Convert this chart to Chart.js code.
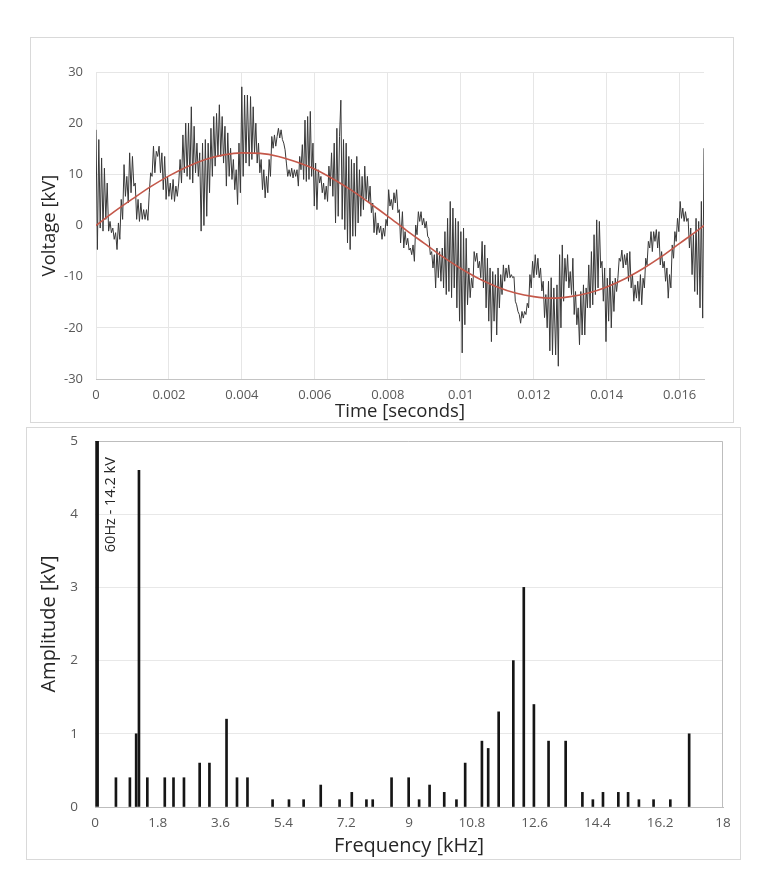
<!DOCTYPE html>
<html>
<head>
<meta charset="utf-8">
<script src="https://cdn.jsdelivr.net/npm/chart.js@4/dist/chart.umd.min.js"></script>
<style>
  html, body { margin: 0; padding: 0; background: #fff; }
  body { width: 768px; height: 887px; position: relative; overflow: hidden; }
  .panel { position: absolute; box-sizing: border-box; border: 1px solid #d9d9d9; background: #fff; }
  #p1 { left: 30px; top: 37px; width: 704px; height: 386px; }
  #p2 { left: 26px; top: 427px; width: 715px; height: 433px; }
  canvas { position: absolute; left: 0; top: 0; }
</style>
</head>
<body>
<div class="panel" id="p1"><canvas id="c1" width="704" height="386"></canvas></div>
<div class="panel" id="p2"><canvas id="c2" width="715" height="433"></canvas></div>
<script>
// ---------- Time-domain chart data (kV) ----------
const timeTicks = [0, 0.002, 0.004, 0.006, 0.008, 0.01, 0.012, 0.014, 0.016];
const voltTicks = [-30, -20, -10, 0, 10, 20, 30];
// time windows (s) covered by each read segment of the noisy trace
const segStart = [0, 0.0042, 0.0084, 0.0126];
const segEnd   = [0.00415, 0.00835, 0.01255, 0.0166667];
const voltSeg1 = [18.7, -4.7, 16.8, -0.5, 13.2, -1.1, 11.2, 1.2, 8.3, -1.1, 0.8, -1.4, -0.5, -2.7, -1.4, -4.7, 0.5, -2.7, 5.1, 1.2, 11.9, 5.7, 9.6, 4.4, 14.2, 6.4, 13.5, 7.7, 8.3, 1.2, 5.1, 0.8, 4.4, 1.2, 3.1, 1.2, 3.1, 1.0, 6.4, 10.3, 9.6, 15.5, 10.3, 14.5, 13.5, 15.5, 10.3, 14.2, 7.0, 13.5, 5.1, 9.6, 5.7, 8.3, 5.1, 9.0, 4.7, 7.7, 5.7, 8.3, 12.9, 8.3, 17.7, 10.3, 20, 9.6, 20, 9.0, 23.2, 8.3, 19.4, 10.3, 16.1, 9.6, 14.2, -1.1, 16.1, 0, 16.8, 1.8, 16.1, 6.4, 19.0, 9.6, 21.3, 11.6, 21.9, 13.5, 23.6, 13.5, 21.3, 12.2, 19.4, 7.7, 18.1, 9.6, 15.1, 9.0, 12.9, 7.0, 10.9, 4.1, 16.1, 6.4, 27.1, 9.6, 25.5, 12.2, 25.5];
const voltSeg2 = [11.6, 25.2, 12.9, 23.2, 14.2, 20, 12.2, 16.1, 10.3, 12.9, 7.0, 10.9, 5.4, 9.6, 6.4, 12.9, 9.6, 17.4, 15.1, 17.7, 15.5, 17.4, 19.0, 17.1, 18.7, 16.8, 16.1, 14.8, 12.2, 9.6, 10.9, 9.6, 11.2, 9.3, 10.9, 9.6, 10.9, 7.7, 13.5, 10.9, 15.8, 9.0, 20.6, 8.6, 21.3, 9.0, 22.3, 9.6, 16.1, 3.8, 12.2, 3.1, 10.9, 8.3, 9.6, 6.4, 8.3, 5.1, 7.7, 4.7, 11.6, 7.7, 14.2, 5.7, 16.1, 0.5, 19.0, 1.8, 17.4, 24.5, 1.2, 16.8, -0.8, 16.1, -3.4, 13.5, -4.7, 12.9, -2.1, 12.2, -2.1, 13.5, 0.5, 10.9, 1.8, 9.6, 3.1, 11.6, 5.1, 9.6, 4.4, 7.7, 2.5, 4.4, -1.4, 2.5, -1.8, 0.5, -1.4, -0.1, -2.7, -0.5, -2.1, 1.2, -0.1, 7.0, 3.8, 5.1, 3.1, 6.4, 4.4, 7.0, 2.5, 3.1, -3.4];
const voltSeg3 = [2.7, -4.4, -1.2, -3.8, -2.5, -4.8, -4.4, -5.7, -3.8, -7.0, 0.1, -1.8, 2.7, 0.8, 2.7, 0.1, 1.4, -0.5, 0.8, -2.1, -2.5, -5.7, -5.1, -8.3, -5.7, -12.2, -4.4, -10.2, -5.1, -10.9, -4.4, -12.2, -1.2, -13.5, 1.4, -12.9, 4.7, -14.1, 3.4, -12.2, 1.4, -16.1, 0.8, -18.7, -1.2, -24.9, -0.5, -19.4, -2.5, -15.5, -8.3, -14.1, -10.3, -12.2, -5.1, -7.0, -5.4, -8.3, -7.0, -10.2, -3.1, -12.2, -3.8, -16.1, -6.4, -18.7, -8.3, -22.7, -9.0, -18.7, -9.6, -21.4, -8.3, -16.1, -9.6, -13.5, -7.7, -10.9, -8.3, -10.2, -7.7, -10.2, -9.6, -10.2, -10, -14.8, -15.5, -16.8, -17.4, -19.1, -16.8, -18.1, -16.8, -17.4, -15.2, -16.1, -9.6, -12.2, -7.0, -10.2, -5.7, -9.6, -6.4, -10.2, -8.3, -12.8, -10.9, -18.0, -13.5, -20, -10.9, -24.5, -10.2, -25.3, -12.2];
const voltSeg4 = [-25.3, -11.6, -27.5, -5.7, -20, -3.8, -14.8, -6.4, -10.9, -5.7, -12.2, -9.0, -13.5, -6.4, -17.4, -12.9, -19.4, -16.1, -23.3, -12.9, -21.4, -11.6, -21.4, -12.2, -16.1, -7.7, -16.1, -5.1, -15.5, -1.8, -13.5, 1.1, -12.2, 0.8, -8.3, -7.0, -14.8, -8.3, -22.7, -10.3, -18.7, -8.3, -20, -10.9, -16.8, -10.3, -12.9, -10.3, -6.4, -7.0, -4.8, -8.3, -5.7, -7.7, -5.4, -10.9, -5.1, -12.2, -9.6, -14.8, -11.6, -14.2, -10.9, -14.8, -9.6, -15.5, -10.3, -12.2, -6.4, -7.7, -3.1, -4.4, -1.2, -5.1, -1.2, -3.1, -0.8, -4.4, -1.2, -7.7, -5.1, -8.3, -7.0, -10.9, -8.3, -14.2, -9.6, -12.2, -3.8, -6.4, -1.2, -3.1, 1.4, -1.2, 4.7, 1.4, 3.4, 0.8, 2.7, 0.8, 1.4, -4.4, -0.5, -9.6, -1.8, -12.9, 1.4, -13.5, 0.8, -16.1, 4.7, -18.1, 15.1];
// fundamental (60 Hz) trace, read every 0.5 ms
const fundTime = [0, 0.0005, 0.001, 0.0015, 0.002, 0.0025, 0.003, 0.0035, 0.004, 0.0045, 0.005, 0.0055, 0.006, 0.0065, 0.007, 0.0075, 0.008, 0.0085, 0.009, 0.0095, 0.01, 0.0105, 0.011, 0.0115, 0.012, 0.0125, 0.013, 0.0135, 0.014, 0.0145, 0.015, 0.0155, 0.016, 0.0165, 0.0166667];
const fundVolt = [0, 2.7, 5.2, 7.6, 9.7, 11.5, 12.9, 13.8, 14.2, 14.1, 13.5, 12.4, 11.0, 9.1, 6.9, 4.4, 1.8, -0.9, -3.5, -6.1, -8.4, -10.4, -12.0, -13.2, -13.9, -14.2, -13.9, -13.2, -12.0, -10.4, -8.4, -6.1, -3.5, -0.9, 0];

// ---------- Spectrum chart data ----------
const freqTicks = [0, 1.8, 3.6, 5.4, 7.2, 9, 10.8, 12.6, 14.4, 16.2, 18];
const ampTicks = [0, 1, 2, 3, 4, 5];
const fundFreqKHz = 0.06, fundAmpKV = 14.2;
const freqKHz = [0.6, 1.0, 1.18, 1.26, 1.5, 2.0, 2.25, 2.55, 3.0, 3.28, 3.77, 4.07, 4.37, 5.09, 5.56, 5.98, 6.47, 7.01, 7.36, 7.78, 7.96, 8.5, 8.99, 9.29, 9.59, 10.01, 10.36, 10.61, 11.09, 11.27, 11.57, 11.99, 12.29, 12.58, 13.0, 13.49, 13.97, 14.27, 14.56, 15.0, 15.28, 15.59, 16.01, 16.49, 17.03];
const ampKV   = [0.4, 0.4, 1.0, 4.6, 0.4, 0.4, 0.4, 0.4, 0.6, 0.6, 1.2, 0.4, 0.4, 0.1, 0.1, 0.1, 0.3, 0.1, 0.2, 0.1, 0.1, 0.4, 0.4, 0.1, 0.3, 0.2, 0.1, 0.6, 0.9, 0.8, 1.3, 2.0, 3.0, 1.4, 0.9, 0.9, 0.2, 0.1, 0.2, 0.2, 0.2, 0.1, 0.1, 0.1, 1.0];
const annotation = '60Hz - 14.2 kV';

// ---------- build ----------
const FONT = '"Open Sans", "DejaVu Sans", sans-serif';
const fmt = v => String(parseFloat(Number(v).toFixed(4)));

const segs = [voltSeg1, voltSeg2, voltSeg3, voltSeg4];
const noisy = [];
segs.forEach((seg, k) => {
  const n = seg.length;
  seg.forEach((v, i) => noisy.push({ x: segStart[k] + (segEnd[k] - segStart[k]) * i / (n - 1), y: v }));
});
const fund = fundTime.map((t, i) => ({ x: t, y: fundVolt[i] }));

new Chart(document.getElementById('c1'), {
  type: 'line',
  data: {
    datasets: [
      { data: fund, borderColor: '#c4584a', borderWidth: 1.6, pointRadius: 0, cubicInterpolationMode: 'monotone', order: 0 },
      { data: noisy, borderColor: '#383838', borderWidth: 1, pointRadius: 0, tension: 0, order: 1 }
    ]
  },
  options: {
    responsive: false, animation: false, devicePixelRatio: 1,
    layout: { padding: { left: 0, right: 31, top: 34, bottom: 0 } },
    plugins: { legend: { display: false }, tooltip: { enabled: false } },
    scales: {
      x: {
        type: 'linear', min: 0, max: 1 / 60,
        afterBuildTicks: s => { s.ticks = timeTicks.map(v => ({ value: v })); },
        ticks: { color: '#595959', font: { family: FONT, size: 13 }, padding: 8, maxRotation: 0, autoSkip: false, callback: v => fmt(v) },
        grid: { color: '#e6e6e6', drawTicks: false },
        border: { color: '#c4c4c4' },
        title: { display: true, text: 'Time [seconds]', color: '#262626', font: { family: FONT, size: 18.5 }, padding: { top: 0, bottom: 1 } },
        afterFit: s => { s.height = 45; }
      },
      y: {
        min: -30, max: 30,
        afterBuildTicks: s => { s.ticks = voltTicks.map(v => ({ value: v })); },
        ticks: { color: '#595959', font: { family: FONT, size: 13 }, padding: 13 },
        grid: { color: '#e6e6e6', drawTicks: false },
        border: { display: false },
        title: { display: true, text: 'Voltage [kV]', color: '#262626', font: { family: FONT, size: 18.5 }, padding: { top: 8, bottom: 0 } },
        afterFit: s => { s.width = 65; s.paddingTop = 0; s.paddingBottom = 0; }
      }
    }
  }
});

const framePlugin = {
  id: 'frame',
  beforeDatasetsDraw(chart) {
    const { ctx, chartArea: a } = chart;
    ctx.save();
    ctx.strokeStyle = '#bdbdbd';
    ctx.lineWidth = 1;
    ctx.beginPath();
    ctx.moveTo(a.left, a.top + 0.5); ctx.lineTo(a.right - 0.5, a.top + 0.5); ctx.lineTo(a.right - 0.5, a.bottom);
    ctx.stroke();
    ctx.restore();
  }
};
const labelPlugin = {
  id: 'fundLabel',
  afterDatasetsDraw(chart) {
    const { ctx, scales: { x, y } } = chart;
    ctx.save();
    ctx.translate(x.getPixelForValue(0.46), y.getPixelForValue(4.13));
    ctx.rotate(-Math.PI / 2);
    ctx.font = '14.5px ' + FONT;
    ctx.fillStyle = '#262626';
    ctx.textAlign = 'center';
    ctx.textBaseline = 'middle';
    ctx.fillText(annotation, 0, 0);
    ctx.restore();
  }
};

new Chart(document.getElementById('c2'), {
  type: 'bar',
  data: {
    datasets: [
      { data: [{ x: fundFreqKHz, y: fundAmpKV }], backgroundColor: '#151515', barThickness: 3, grouped: false },
      { data: freqKHz.map((f, i) => ({ x: f, y: ampKV[i] })), backgroundColor: '#151515', barThickness: 2, grouped: false }
    ]
  },
  options: {
    responsive: false, animation: false, devicePixelRatio: 1,
    layout: { padding: { left: 0, right: 19, top: 13, bottom: 0 } },
    plugins: { legend: { display: false }, tooltip: { enabled: false } },
    scales: {
      x: {
        type: 'linear', min: 0, max: 18, offset: false,
        afterBuildTicks: s => { s.ticks = freqTicks.map(v => ({ value: v })); },
        ticks: { color: '#595959', font: { family: FONT, size: 13.5 }, padding: 8, maxRotation: 0, autoSkip: false, callback: v => fmt(v) },
        grid: { display: false, drawTicks: false },
        border: { color: '#bdbdbd' },
        title: { display: true, text: 'Frequency [kHz]', color: '#262626', font: { family: FONT, size: 20 }, padding: { top: 0, bottom: 3 } },
        afterFit: s => { s.height = 54; }
      },
      y: {
        min: 0, max: 5,
        afterBuildTicks: s => { s.ticks = ampTicks.map(v => ({ value: v })); },
        ticks: { color: '#595959', font: { family: FONT, size: 13.5 }, padding: 17 },
        grid: { color: '#e8e8e8', drawTicks: false },
        border: { display: false },
        title: { display: true, text: 'Amplitude [kV]', color: '#262626', font: { family: FONT, size: 20 }, padding: { top: 10, bottom: 0 } },
        afterFit: s => { s.width = 68; s.paddingTop = 0; s.paddingBottom = 0; }
      }
    }
  },
  plugins: [framePlugin, labelPlugin]
});
</script>
</body>
</html>
